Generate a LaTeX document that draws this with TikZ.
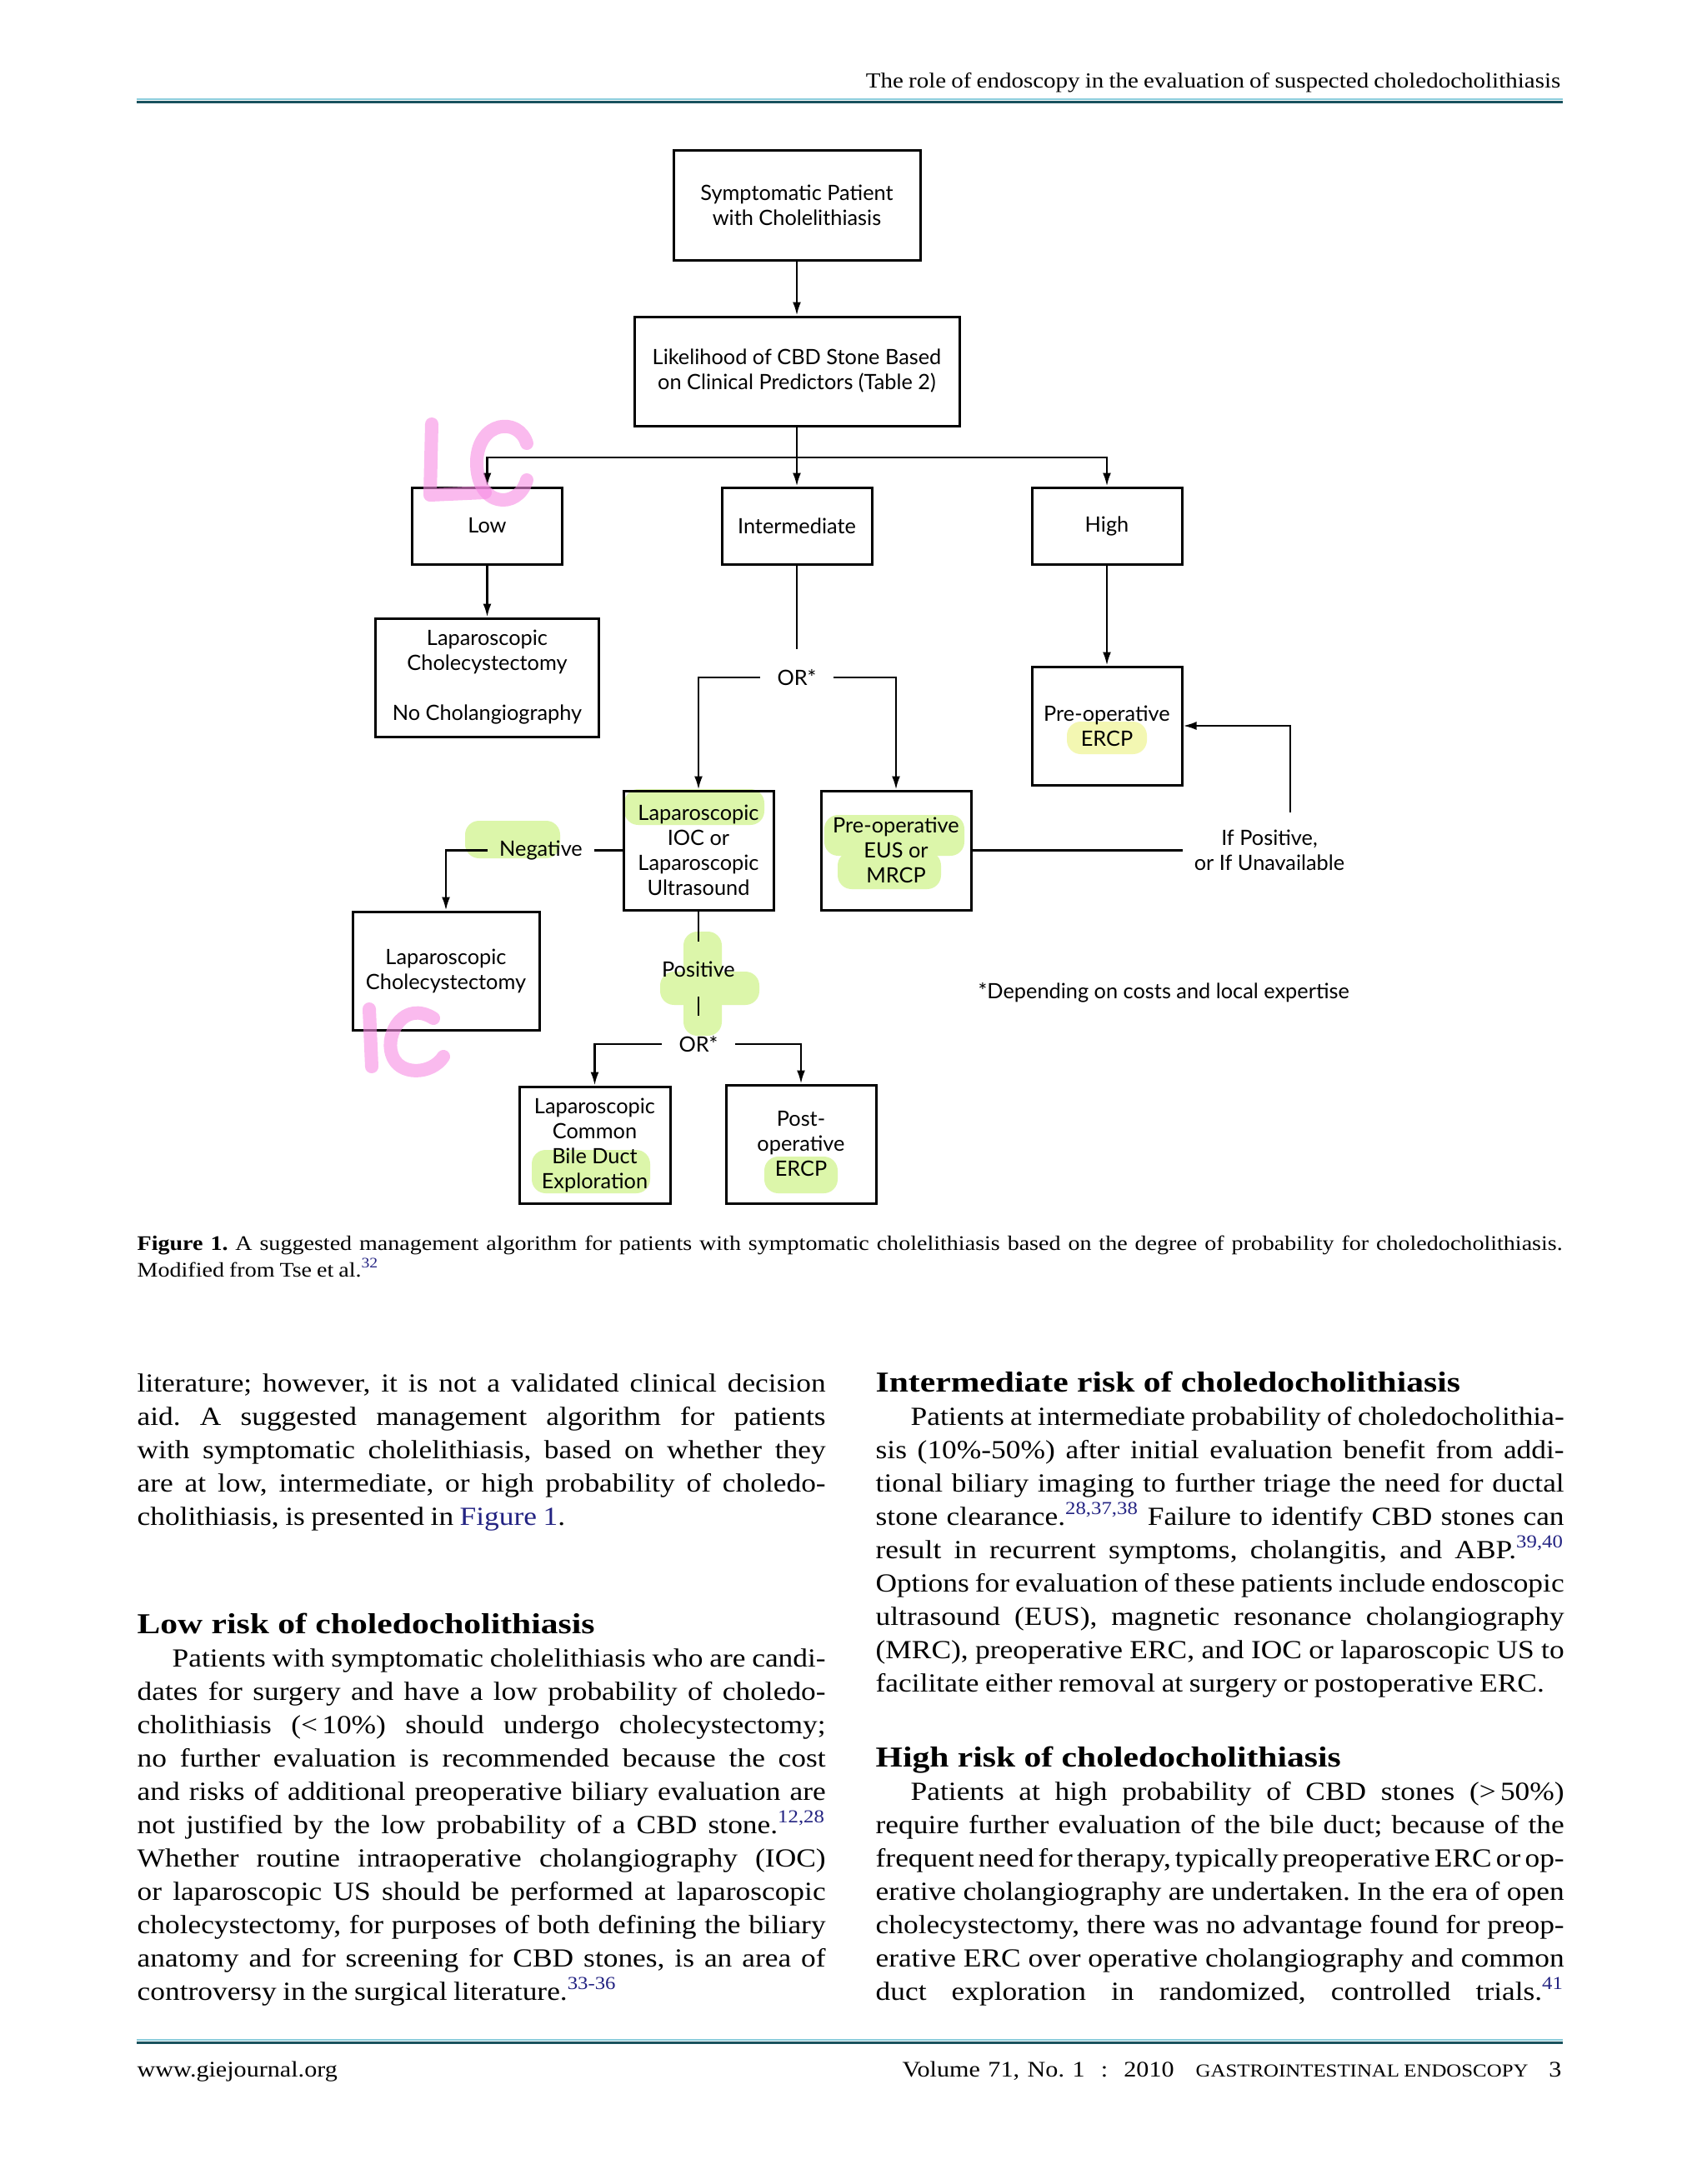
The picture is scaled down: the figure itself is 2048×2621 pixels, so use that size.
\documentclass[tikz,border=0pt]{standalone}
\usepackage{fontspec}
\setmainfont{Liberation Serif}[FakeStretch=1.13, WordSpace={0.85,1.2,1.4}]
\newfontfamily\headfont{Liberation Serif}[FakeStretch=1.2]
\newfontfamily\figfamily{Lato}
\usetikzlibrary{arrows.meta}
\frenchspacing
\definecolor{navy}{RGB}{35,35,130}
\definecolor{rulet}{RGB}{25,82,94}
\definecolor{rulel}{RGB}{140,205,220}
\definecolor{hlgreen}{RGB}{220,246,170}
\definecolor{hlyellow}{RGB}{243,247,178}
\definecolor{pinkhl}{RGB}{248,140,228}
\newcommand\cit[1]{\textsuperscript{\color{navy}#1}}
\newcommand\ff{\figfamily\fontsize{7.6pt}{9pt}\selectfont}
\newcommand\bodyfont{\fontsize{9.4pt}{12pt}\selectfont}
\newcommand\headsize{\headfont\bfseries\fontsize{10.4pt}{12pt}\selectfont}
% body lines: name, x, y, text
\newcommand\Ln[4]{\node[bline] (#1) at (#2,#3) {\makebox[247.8pt][s]{#4}};}
\newcommand\Li[4]{\node[bline] (#1) at (#2+42,#3) {\makebox[235.2pt][s]{#4}};}
\newcommand\Ll[4]{\node[bline] (#1) at (#2,#3) {#4};}
\tikzset{
  flowbox/.style={draw, line width=0.9pt, inner sep=0pt, align=center, font=\ff},
  lbl/.style={inner sep=0pt, align=center, font=\ff},
  conn/.style={line width=0.7pt},
  arr/.style={line width=0.7pt, -{Latex[length=4.8pt,width=3pt]}},
  bline/.style={anchor=base west, inner sep=0pt, font=\bodyfont},
  head/.style={anchor=base west, inner sep=0pt, font=\headsize},
  hl/.style={rounded corners=5pt},
  pen/.style={draw=pinkhl, draw opacity=0.6, line width=4.8pt, line cap=round, line join=round}
}
\begin{document}
\begin{tikzpicture}[x=0.3pt, y=-0.3pt]
\useasboundingbox (0,0) rectangle (2048,2621);
\fill[white] (0,0) rectangle (2048,2621);

% header
\node[anchor=base east, inner sep=0pt, font=\fontsize{7.7pt}{9pt}\selectfont] (hdr) at (1873,105) {The role of endoscopy in the evaluation of suspected choledocholithiasis};
\draw[rulel, line width=0.45pt] (164,119) -- (1875,119);
\draw[rulet, line width=0.9pt] (164,122) -- (1875,122);

% highlights
\fill[hlyellow, hl] (1280,866) rectangle (1376,905);
\fill[hlgreen, hl] (749,947) rectangle (917,990);
\fill[hlgreen, hl] (558,985) rectangle (672,1030);
\fill[hlgreen, hl] (989,978) rectangle (1157,1027);
\fill[hlgreen, hl] (1005,1022) rectangle (1129,1067);
\fill[hlgreen, hl] (820,1118) rectangle (866,1243);
\fill[hlgreen, hl] (792,1166) rectangle (911,1206);
\fill[hlgreen, hl] (638,1380) rectangle (780,1432);
\fill[hlgreen, hl] (917,1388) rectangle (1005,1432);

% flowchart nodes
\node[flowbox, minimum width=88.8pt, minimum height=39.6pt] (sym) at (956,246) {Symptomatic Patient\\with Cholelithiasis};
\node[flowbox, minimum width=117pt, minimum height=39.3pt] (lik) at (956,445.5) {Likelihood of CBD Stone Based\\on Clinical Predictors (Table 2)};
\node[flowbox, minimum width=54pt, minimum height=27.6pt] (low) at (584.5,631) {Low};
\node[flowbox, minimum width=54pt, minimum height=27.6pt] (inter) at (956,631) {Intermediate};
\node[flowbox, minimum width=54pt, minimum height=27.6pt] (high) at (1328,631) {High};
\node[flowbox, minimum width=80.4pt, minimum height=42.6pt] (lc1) at (584.5,813) {Laparoscopic\\Cholecystectomy\\[9pt]No Cholangiography};
\node[flowbox, minimum width=54pt, minimum height=42.6pt] (ercp) at (1328,871) {Pre-operative\\ERCP};
\node[lbl, inner xsep=6pt, inner ysep=7pt] (or1) at (956,813) {OR*};
\node[flowbox, minimum width=54pt, minimum height=42.9pt] (ioc) at (838,1020.5) {Laparoscopic\\IOC or\\Laparoscopic\\Ultrasound};
\node[flowbox, minimum width=54pt, minimum height=42.9pt] (eus) at (1075,1020.5) {Pre-operative\\EUS or\\MRCP};
\node[lbl, inner xsep=4pt, inner ysep=4pt] (neg) at (649,1020.5) {Negative};
\node[lbl, inner xsep=4pt, inner ysep=4pt] (ifpos) at (1523,1020.5) {If Positive,\\or If Unavailable};
\coordinate (fb) at (1548,975);
\node[flowbox, minimum width=67.2pt, minimum height=42.6pt] (lc2) at (535,1165) {Laparoscopic\\Cholecystectomy};
\node[lbl, inner xsep=4pt, inner ysep=7pt] (pos) at (838,1163) {Positive};
\node[lbl, inner xsep=6pt, inner ysep=7pt] (or2) at (838,1253) {OR*};
\node[flowbox, minimum width=54.3pt, minimum height=42pt] (lcbde) at (713.5,1374) {Laparoscopic\\Common\\Bile Duct\\Exploration};
\node[flowbox, minimum width=54pt, minimum height=42.6pt] (postop) at (961,1373) {Post-\\operative\\ERCP};
\node[anchor=base west, inner sep=0pt, font=\ff] (dep) at (1173,1198) {*Depending on costs and local expertise};
\coordinate (br) at (956,549);

% connectors
\draw[arr] (sym) -- (lik);
\draw[arr] (lik) -- (inter);
\draw[arr] (br) -| (low.north);
\draw[arr] (br) -| (high.north);
\draw[arr] (low) -- (lc1);
\draw[conn] (inter) -- (or1);
\draw[arr] (or1.west) -| (ioc.north);
\draw[arr] (or1.east) -| (eus.north);
\draw[arr] (high) -- (ercp);
\draw[conn] (eus.east) -- (ifpos.west);
\draw[arr] (fb) |- (ercp.east);
\draw[conn] (ioc.west) -- (neg.east);
\draw[arr] (neg.west) -| (lc2.north);
\draw[conn] (ioc.south) -- (pos.north);
\draw[conn] (pos.south) -- (or2.north);
\draw[arr] (or2.west) -| (lcbde.north);
\draw[arr] (or2.east) -| (postop.north);

% pink handwriting marks
\draw[pen] (518,509) -- (516,594) -- (582,591);
\draw[pen] (632,532) .. controls (622,500) and (574,505) .. (572,553) .. controls (571,610) and (622,612) .. (632,576);
\draw[pen] (443,1211) -- (446,1280);
\draw[pen] (520,1222) .. controls (485,1200) and (462,1240) .. (470,1265) .. controls (478,1292) and (518,1290) .. (532,1268);

% caption
\node[anchor=base west, inner sep=0pt, font=\fontsize{7.45pt}{9.6pt}\selectfont] (cap1) at (164,1500) {\makebox[513pt][s]{\textbf{Figure 1.} A suggested management algorithm for patients with symptomatic cholelithiasis based on the degree of probability for choledocholithiasis.}};
\node[anchor=base west, inner sep=0pt, font=\fontsize{7.45pt}{9.6pt}\selectfont] (cap2) at (164,1532) {Modified from Tse et al.\cit{32}};

% left column
\Ln{a1}{164}{1670}{literature; however, it is not a validated clinical decision}
\Ln{a2}{164}{1710}{aid. A suggested management algorithm for patients}
\Ln{a3}{164}{1750}{with symptomatic cholelithiasis, based on whether they}
\Ln{a4}{164}{1790}{are at low, intermediate, or high probability of choledo-}
\Ll{a5}{164}{1830}{cholithiasis, is presented in {\color{navy}Figure 1}.}
\node[head] (h1) at (164,1960) {Low risk of choledocholithiasis};
\Li{b1}{164}{2000}{Patients with symptomatic cholelithiasis who are candi-}
\Ln{b2}{164}{2040}{dates for surgery and have a low probability of choledo-}
\Ln{b3}{164}{2080}{cholithiasis (<\,10\%) should undergo cholecystectomy;}
\Ln{b4}{164}{2120}{no further evaluation is recommended because the cost}
\Ln{b5}{164}{2160}{and risks of additional preoperative biliary evaluation are}
\Ln{b6}{164}{2200}{not justified by the low probability of a CBD stone.\cit{12,28}}
\Ln{b7}{164}{2240}{Whether routine intraoperative cholangiography (IOC)}
\Ln{b8}{164}{2280}{or laparoscopic US should be performed at laparoscopic}
\Ln{b9}{164}{2320}{cholecystectomy, for purposes of both defining the biliary}
\Ln{b10}{164}{2360}{anatomy and for screening for CBD stones, is an area of}
\Ll{b11}{164}{2400}{controversy in the surgical literature.\cit{33-36}}

% right column
\node[head] (h2) at (1050,1670) {Intermediate risk of choledocholithiasis};
\Li{c1}{1050}{1710}{Patients at intermediate probability of choledocholithia-}
\Ln{c2}{1050}{1750}{sis (10\%-50\%) after initial evaluation benefit from addi-}
\Ln{c3}{1050}{1790}{tional biliary imaging to further triage the need for ductal}
\Ln{c4}{1050}{1830}{stone clearance.\cit{28,37,38} Failure to identify CBD stones can}
\Ln{c5}{1050}{1870}{result in recurrent symptoms, cholangitis, and ABP.\cit{39,40}}
\Ln{c6}{1050}{1910}{Options for evaluation of these patients include endoscopic}
\Ln{c7}{1050}{1950}{ultrasound (EUS), magnetic resonance cholangiography}
\Ln{c8}{1050}{1990}{(MRC), preoperative ERC, and IOC or laparoscopic US to}
\Ll{c9}{1050}{2030}{facilitate either removal at surgery or postoperative ERC.}
\node[head] (h3) at (1050,2120) {High risk of choledocholithiasis};
\Li{d1}{1050}{2160}{Patients at high probability of CBD stones (>\,50\%)}
\Ln{d2}{1050}{2200}{require further evaluation of the bile duct; because of the}
\Ln{d3}{1050}{2240}{frequent need for therapy, typically preoperative ERC or op-}
\Ln{d4}{1050}{2280}{erative cholangiography are undertaken. In the era of open}
\Ln{d5}{1050}{2320}{cholecystectomy, there was no advantage found for preop-}
\Ln{d6}{1050}{2360}{erative ERC over operative cholangiography and common}
\Ln{d7}{1050}{2400}{duct exploration in randomized, controlled trials.\cit{41}}

% footer
\draw[rulel, line width=0.45pt] (164,2448) -- (1875,2448);
\draw[rulet, line width=0.9pt] (164,2451) -- (1875,2451);
\node[anchor=base west, inner sep=0pt, font=\fontsize{8pt}{10pt}\selectfont] (url) at (164,2492) {www.giejournal.org};
\node[anchor=base west, inner sep=0pt, font=\fontsize{8pt}{10pt}\selectfont] (vol) at (1082,2492) {\makebox[97.8pt][s]{Volume 71, No. 1 \ : \ 2010}};
\node[anchor=base west, inner sep=0pt, font=\fontsize{6.6pt}{8pt}\selectfont] (jour) at (1434,2492) {GASTROINTESTINAL ENDOSCOPY};
\node[anchor=base east, inner sep=0pt, font=\fontsize{8pt}{10pt}\selectfont] (pg) at (1874,2492) {3};
\end{tikzpicture}
\end{document}
